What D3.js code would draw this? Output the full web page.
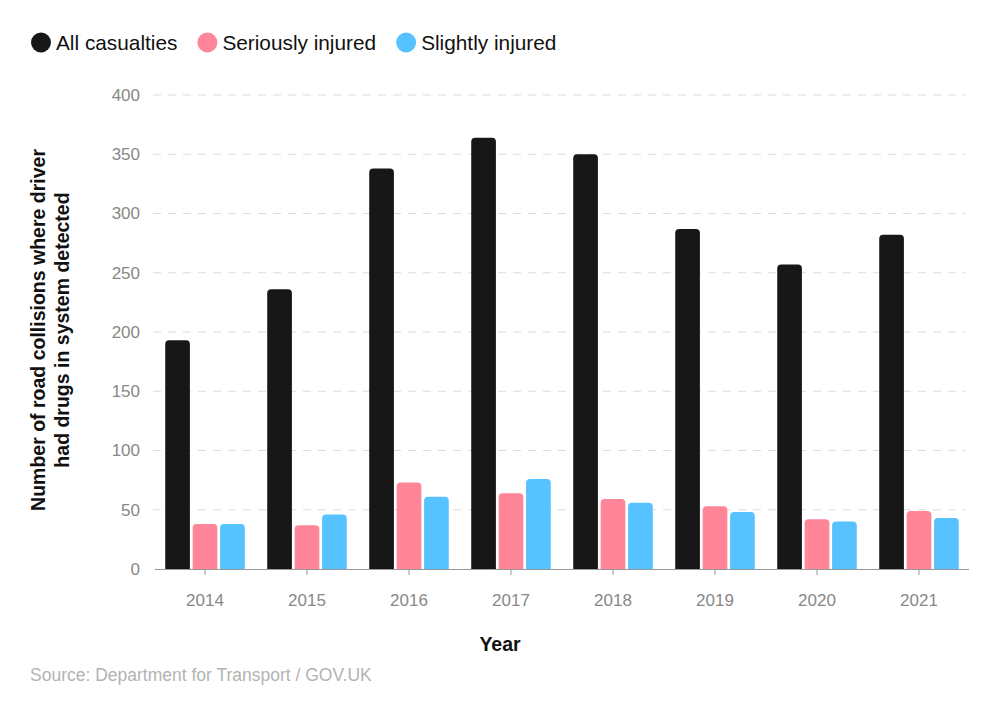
<!DOCTYPE html>
<html>
<head>
<meta charset="utf-8">
<script src="https://cdn.jsdelivr.net/npm/d3@7"></script>
<style>
  body { margin: 0; background: #fff; }
  svg { display: block; font-family: "Liberation Sans", Arial, sans-serif; }
</style>
</head>
<body>
<div id="chart"></div>
<script>
// data
const years = ['2014', '2015', '2016', '2017', '2018', '2019', '2020', '2021'];
const allCasualties = [193, 236, 338, 364, 350, 287, 257, 282];
const seriouslyInjured = [38, 37, 73, 64, 59, 53, 42, 49];
const slightlyInjured = [38, 46, 61, 76, 56, 48, 40, 43];
const seriesNames = ['All casualties', 'Seriously injured', 'Slightly injured'];
const seriesColors = ['#171717', '#ff8599', '#56c2ff'];
const yTicks = [0, 50, 100, 150, 200, 250, 300, 350, 400];

const width = 1000, height = 710;
const svg = d3.select('#chart').append('svg')
  .attr('width', width)
  .attr('height', height);

const x = d3.scaleBand().domain(years).range([154, 970]).paddingInner(0.22).paddingOuter(0.11);
const xInner = d3.scaleBand().domain(seriesNames).range([0, x.bandwidth()]).paddingInner(0.1);
const y = d3.scaleLinear().domain([0, 400]).range([569, 95]);

// gridlines
svg.append('g')
  .selectAll('line')
  .data(yTicks.filter(d => d > 0))
  .enter().append('line')
  .attr('x1', 153).attr('x2', 966)
  .attr('y1', d => y(d)).attr('y2', d => y(d))
  .attr('stroke', '#dcdcdc')
  .attr('stroke-width', 1)
  .attr('stroke-dasharray', '8,7');

// y axis labels
const yAxis = svg.append('g')
  .attr('transform', 'translate(140,0)')
  .call(d3.axisLeft(y).tickValues(yTicks).tickSize(0).tickPadding(0));
yAxis.select('.domain').remove();
yAxis.selectAll('text')
  .attr('fill', '#888')
  .attr('font-size', 17)
  .attr('font-family', '"Liberation Sans", Arial, sans-serif');

// x axis
const xAxis = svg.append('g')
  .attr('transform', 'translate(0,' + y(0) + ')')
  .call(d3.axisBottom(x).tickSize(6).tickPadding(19).tickSizeOuter(0));
xAxis.select('.domain').attr('stroke', '#999').attr('d', 'M155,0.5H969');
xAxis.selectAll('.tick line').attr('stroke', '#999');
xAxis.selectAll('text')
  .attr('fill', '#888')
  .attr('font-size', 17)
  .attr('font-family', '"Liberation Sans", Arial, sans-serif');

// bar with rounded top corners
function topRounded(x0, y0, w, h, r) {
  r = Math.min(r, h, w / 2);
  return 'M' + x0 + ',' + (y0 + h) +
    'V' + (y0 + r) +
    'Q' + x0 + ',' + y0 + ' ' + (x0 + r) + ',' + y0 +
    'H' + (x0 + w - r) +
    'Q' + (x0 + w) + ',' + y0 + ' ' + (x0 + w) + ',' + (y0 + r) +
    'V' + (y0 + h) + 'Z';
}

const rows = years.map((yr, i) => ({
  year: yr,
  values: [allCasualties[i], seriouslyInjured[i], slightlyInjured[i]]
}));

const groups = svg.append('g').selectAll('g')
  .data(rows)
  .enter().append('g')
  .attr('transform', d => 'translate(' + x(d.year) + ',0)');

groups.selectAll('path')
  .data(d => d.values.map((v, j) => ({ name: seriesNames[j], value: v, color: seriesColors[j] })))
  .enter().append('path')
  .attr('fill', d => d.color)
  .attr('d', d => topRounded(xInner(d.name), y(d.value), xInner.bandwidth(), y(0) - y(d.value), 4));

// legend
const legend = svg.append('g');
let lx = 31;
seriesNames.forEach((name, i) => {
  legend.append('circle')
    .attr('cx', lx + 10).attr('cy', 42.5).attr('r', 10)
    .attr('fill', seriesColors[i]);
  const t = legend.append('text')
    .attr('x', lx + 25).attr('y', 49.5)
    .attr('font-size', 20.8)
    .attr('fill', '#111')
    .text(name);
  lx += 25 + t.node().getComputedTextLength() + 20;
});

// axis titles
const yTitle = svg.append('text')
  .attr('transform', 'translate(45,330) rotate(-90)')
  .attr('text-anchor', 'middle')
  .attr('font-size', 19.5)
  .attr('font-weight', 'bold')
  .attr('fill', '#111');
yTitle.append('tspan').attr('x', 0).attr('dy', 0).text('Number of road collisions where driver');
yTitle.append('tspan').attr('x', 0).attr('dy', 24).text('had drugs in system detected');

svg.append('text')
  .attr('x', 500).attr('y', 651)
  .attr('text-anchor', 'middle')
  .attr('font-size', 19.5)
  .attr('font-weight', 'bold')
  .attr('fill', '#111')
  .text('Year');

svg.append('text')
  .attr('x', 30).attr('y', 681)
  .attr('font-size', 17.5)
  .attr('fill', '#b3b3b3')
  .text('Source: Department for Transport / GOV.UK');
</script>
</body>
</html>
